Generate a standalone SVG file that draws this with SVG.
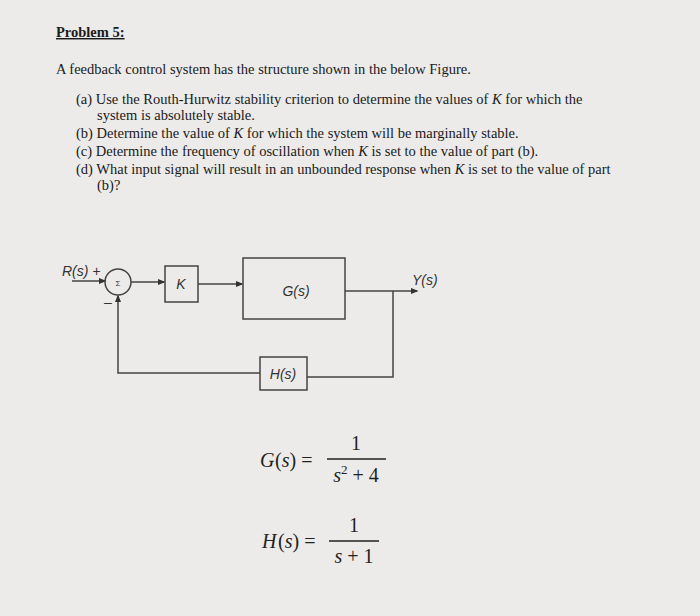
<svg xmlns="http://www.w3.org/2000/svg" width="700" height="616" viewBox="0 0 700 616">
<defs>
<marker id="ah" markerWidth="5" markerHeight="5" refX="4" refY="2.5" orient="auto"><path d="M0,0.5 L5,2.5 L0,4.5 z" fill="#333"/></marker>
<style>
.t{font-family:"Liberation Serif",serif;font-size:14.5px;fill:#1a1a1a}
.d{font-family:"Liberation Sans",sans-serif;font-size:14px;font-style:italic;fill:#333}
.b{fill:none;stroke:#444;stroke-width:1.5}
.m{font-family:"Liberation Serif",serif;font-size:20px;fill:#222}
</style>
</defs>
<rect width="700" height="616" fill="#ecebe9"/>
<text class="t" x="56" y="37" font-weight="bold" text-decoration="underline">Problem 5:</text>
<text class="t" x="56" y="74">A feedback control system has the structure shown in the below Figure.</text>
<text class="t" x="76" y="104">(a) Use the Routh-Hurwitz stability criterion to determine the values of <tspan font-style="italic">K</tspan> for which the</text>
<text class="t" x="97" y="120">system is absolutely stable.</text>
<text class="t" x="76" y="138">(b) Determine the value of <tspan font-style="italic">K</tspan> for which the system will be marginally stable.</text>
<text class="t" x="76" y="156">(c) Determine the frequency of oscillation when <tspan font-style="italic">K</tspan> is set to the value of part (b).</text>
<text class="t" x="76" y="174">(d) What input signal will result in an unbounded response when <tspan font-style="italic">K</tspan> is set to the value of part</text>
<text class="t" x="97" y="190">(b)?</text>
<g id="connectors" class="b">
<path d="M72,281 H105" marker-end="url(#ah)"/>
<path d="M131,282 H164" marker-end="url(#ah)"/>
<path d="M198,284 H242" marker-end="url(#ah)"/>
<path d="M345,291 H417" marker-end="url(#ah)"/>
<path d="M393,291 V377 H307"/>
<path d="M260,373 H118 V296" marker-end="url(#ah)"/>
</g>
<g id="sum"><circle cx="118" cy="282" r="13" class="b" fill="none"/><text x="118" y="286" font-family="Liberation Sans,sans-serif" font-size="8" text-anchor="middle" fill="#333">Σ</text>
<text class="d" x="62" y="276">R(s) +</text><text class="d" x="104" y="307" font-style="normal">–</text></g>
<g id="K"><rect x="165" y="266" width="33" height="36" class="b"/><text class="d" x="181" y="289" text-anchor="middle">K</text></g>
<g id="G"><rect x="243" y="258" width="102" height="61" class="b"/><text class="d" x="296" y="296" text-anchor="middle" font-size="16">G(s)</text></g>
<g id="H"><rect x="260" y="357" width="47" height="33" class="b"/><text class="d" x="283" y="379" text-anchor="middle" font-size="15">H(s)</text></g>
<g id="Y"><text class="d" x="412" y="285">Y(s)</text></g>
<text class="m" x="260" y="467" font-style="italic">G</text><text class="m" x="275" y="467">(<tspan font-style="italic">s</tspan>)  =</text>
<text class="m" x="356" y="450" text-anchor="middle">1</text>
<line x1="327" y1="459" x2="386" y2="459" stroke="#222" stroke-width="1.3"/>
<text class="m" x="356" y="482" text-anchor="middle"><tspan font-style="italic">s</tspan><tspan font-size="13" dy="-8">2</tspan><tspan dy="8"> + 4</tspan></text>
<text class="m" x="262" y="548" font-style="italic">H</text><text class="m" x="278" y="548">(<tspan font-style="italic">s</tspan>)  =</text>
<text class="m" x="354" y="532" text-anchor="middle">1</text>
<line x1="329" y1="541" x2="379" y2="541" stroke="#222" stroke-width="1.3"/>
<text class="m" x="354" y="563" text-anchor="middle"><tspan font-style="italic">s</tspan> + 1</text>
</svg>
